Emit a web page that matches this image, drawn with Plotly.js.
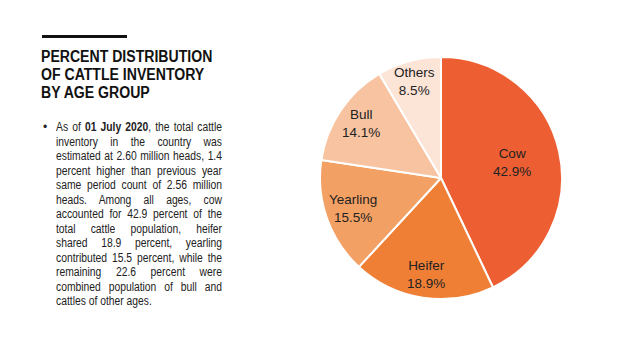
<!DOCTYPE html>
<html>
<head>
<meta charset="utf-8">
<script src="https://cdn.plot.ly/plotly-3.0.1.min.js"></script>
<style>
  html, body { margin: 0; padding: 0; background: #fff; }
  #wrap { position: relative; width: 638px; height: 359px; overflow: hidden; }
  #chart { position: absolute; left: 0; top: 0; width: 638px; height: 359px; }
  #rule { position: absolute; left: 42px; top: 35px; width: 85px; height: 3px; background: #111; }
  #title { position: absolute; left: 41px; top: 48px; width: 240px;
    font-family: "Liberation Sans", Arial, sans-serif;
    font-weight: bold; font-size: 16px; line-height: 18px; color: #111;
    transform: scaleX(0.88); transform-origin: 0 0; white-space: nowrap; }
  #body { position: absolute; left: 56px; top: 120px; width: 193px;
    font-family: "Liberation Sans", Arial, sans-serif;
    font-size: 12px; line-height: 14.5px; color: #222;
    transform: scaleX(0.86); transform-origin: 0 0; }
  #body div { text-align: justify; text-align-last: justify; white-space: nowrap; }
  #body div.last { text-align: left; text-align-last: left; }
  #bullet { position: absolute; left: 43px; top: 120px; font-size: 12px; line-height: 14.5px;
    font-family: "Liberation Sans", Arial, sans-serif; color: #222; }
</style>
</head>
<body>
<div id="wrap">
  <div id="chart"></div>
  <div id="rule"></div>
  <div id="title">PERCENT DISTRIBUTION<br>OF CATTLE INVENTORY<br>BY AGE GROUP</div>
  <div id="bullet">•</div>
  <div id="body">
    <div>As of <b>01 July 2020</b>, the total cattle</div>
    <div>inventory in the country was</div>
    <div>estimated at 2.60 million heads, 1.4</div>
    <div>percent higher than previous year</div>
    <div>same period count of 2.56 million</div>
    <div>heads. Among all ages, cow</div>
    <div>accounted for 42.9 percent of the</div>
    <div>total cattle population, heifer</div>
    <div>shared 18.9 percent, yearling</div>
    <div>contributed 15.5 percent, while the</div>
    <div>remaining 22.6 percent were</div>
    <div>combined population of bull and</div>
    <div class="last">cattles of other ages.</div>
  </div>
</div>
<script>
const categories = ["Cow", "Heifer", "Yearling", "Bull", "Others"];
const shares = [42.9, 18.9, 15.5, 14.1, 8.5];
const sliceColors = ["#ED5F33", "#F07F36", "#F3A064", "#F7C3A0", "#FCE4D6"];
// radial placement of each label, as a fraction of the radius (style only)
const labelRadius = [0.6, 0.81, 0.77, 0.8, 0.83];

const W = 638, H = 359;
const cx = 441, cy = 178, r = 121;

const trace = {
  type: "pie",
  labels: categories,
  values: shares,
  sort: false,
  direction: "clockwise",
  rotation: 0,
  marker: { colors: sliceColors, line: { color: "#ffffff", width: 2 } },
  textinfo: "none",
  hoverinfo: "none",
  domain: { x: [(cx - r) / W, (cx + r) / W], y: [(H - cy - r) / H, (H - cy + r) / H] }
};

// label positions derived from the data (slice mid-angles)
const total = shares.reduce((a, b) => a + b, 0);
let cum = 0;
const annotations = categories.map((c, i) => {
  const mid = (cum + shares[i] / 2) / total * 2 * Math.PI;
  cum += shares[i];
  const px = cx + labelRadius[i] * r * Math.sin(mid);
  const py = cy - labelRadius[i] * r * Math.cos(mid);
  return {
    x: px / W, y: 1 - py / H, xref: "paper", yref: "paper",
    xanchor: "center", yanchor: "middle", showarrow: false,
    text: c + "<br>" + shares[i].toFixed(1) + "%",
    font: { family: "Liberation Sans, Arial, sans-serif", size: 13.5, color: "#222222" }
  };
});

const layout = {
  width: W, height: H,
  margin: { l: 0, r: 0, t: 0, b: 0 },
  showlegend: false,
  paper_bgcolor: "#ffffff",
  annotations: annotations
};

Plotly.newPlot("chart", [trace], layout, { staticPlot: true, displayModeBar: false });
</script>
</body>
</html>
